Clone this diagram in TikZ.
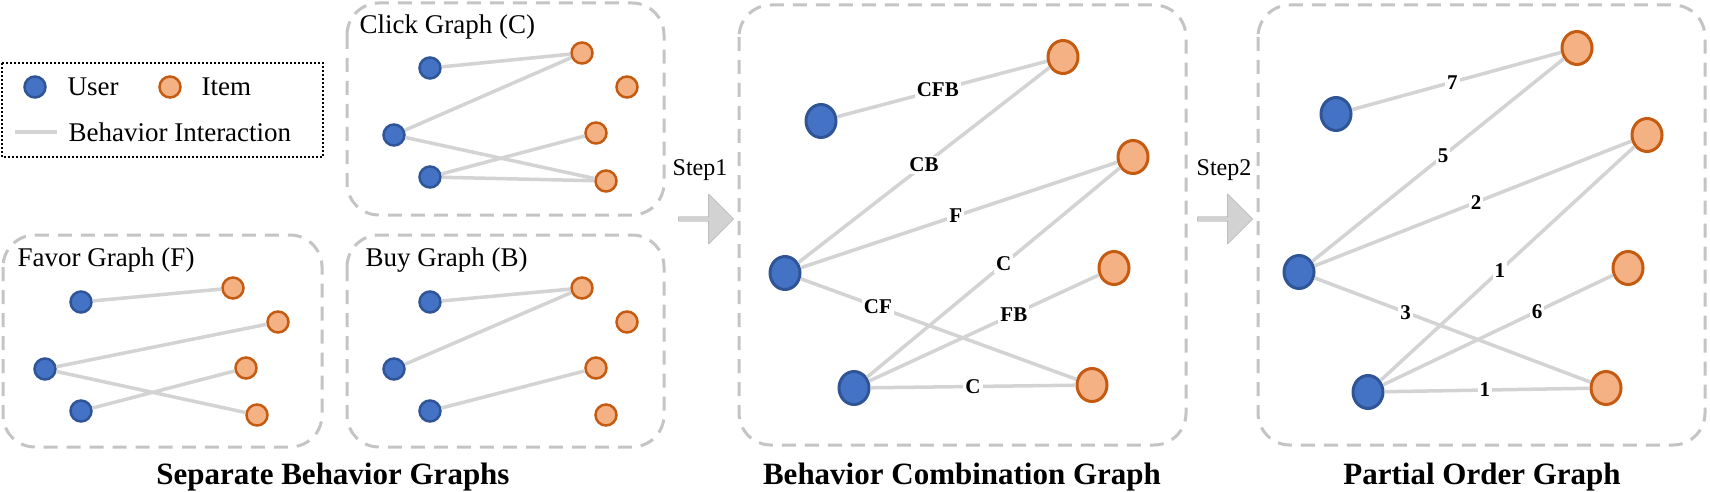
\documentclass[tikz,border=0pt]{standalone}
\usepackage{fontspec}
\setmainfont{Liberation Serif}
\newfontfamily\tms{Liberation Serif}
\usetikzlibrary{shapes.arrows,shapes.geometric}
\definecolor{ublue}{HTML}{4472C4}\definecolor{ubd}{HTML}{2F5597}
\definecolor{iorg}{HTML}{F4B183}\definecolor{iod}{HTML}{C55A11}
\definecolor{lg}{HTML}{D3D3D3}\definecolor{bx}{HTML}{C4C4C4}
\begin{document}
\begin{tikzpicture}[x=1pt,y=-1pt,
 us/.style={circle,fill=ublue,draw=ubd,line width=2.5pt,inner sep=0,minimum size=21pt},
 it/.style={circle,fill=iorg,draw=iod,line width=2.5pt,inner sep=0,minimum size=21pt},
 bu/.style={ellipse,fill=ublue,draw=ubd,line width=3pt,inner sep=0,minimum width=30pt,minimum height=33pt},
 bi/.style={ellipse,fill=iorg,draw=iod,line width=3pt,inner sep=0,minimum width=30pt,minimum height=33pt},
 ln/.style={draw=lg,line width=3.5pt},
 box/.style={draw=bx,line width=3pt,dash pattern=on 14pt off 9pt,rounded corners=32pt},
 lab/.style={fill=white,font=\tms\bfseries\fontsize{21}{21}\selectfont,inner sep=2pt},
 ttl/.style={font=\tms\fontsize{27}{27}\selectfont,anchor=west},
 big/.style={font=\tms\bfseries\fontsize{31}{31}\selectfont},
 stp/.style={single arrow,draw=gray!70,fill=gray!35,minimum height=55pt,minimum width=50pt,single arrow head extend=2pt,inner sep=0}]
\useasboundingbox (0,0) rectangle (1710,492);
% legend
\draw[dotted,line width=2pt] (2,63) rectangle (323,157);
\node[us] (lu) at (35,87) {}; \node[ttl] (lut) at (64,87) {User};
\node[it] (li) at (170,87) {}; \node[ttl] (lit) at (198,87) {Item};
\coordinate (la) at (15,132); \coordinate (lb) at (57,132);
\draw[ln] (la) -- (lb); \node[ttl] (lbt) at (65,132) {Behavior Interaction};
% click
\draw[box] (347,3) rectangle (664,215);
\node[ttl] (ct) at (356,27) {Click Graph (C)};
\node[us] (c1) at (430,68) {}; \node[us] (c2) at (394,135) {}; \node[us] (c3) at (430,177) {};
\node[it] (ci1) at (582,53) {}; \node[it] (ci2) at (627,87) {}; \node[it] (ci3) at (596,133) {}; \node[it] (ci4) at (606,181) {};
\draw[ln] (c1)--(ci1) (c2)--(ci1) (c2)--(ci4) (c3)--(ci3) (c3)--(ci4);
% favor
\draw[box] (3,235) rectangle (322,447);
\node[ttl] (ft) at (14,260) {Favor Graph (F)};
\node[us] (f1) at (81,302) {}; \node[us] (f2) at (45,369) {}; \node[us] (f3) at (81,411) {};
\node[it] (fi1) at (233,288) {}; \node[it] (fi2) at (278,322) {}; \node[it] (fi3) at (246,368) {}; \node[it] (fi4) at (257,415) {};
\draw[ln] (f1)--(fi1) (f2)--(fi2) (f2)--(fi4) (f3)--(fi3);
% buy
\draw[box] (347,235) rectangle (664,447);
\node[ttl] (bt) at (362,260) {Buy Graph (B)};
\node[us] (b1) at (430,302) {}; \node[us] (b2) at (394,369) {}; \node[us] (b3) at (430,411) {};
\node[it] (bi1) at (582,288) {}; \node[it] (bi2) at (627,322) {}; \node[it] (bi3) at (596,368) {}; \node[it] (bi4) at (606,415) {};
\draw[ln] (b1)--(bi1) (b2)--(bi1) (b3)--(bi3);
\node[big] (t1) at (333,477) {Separate Behavior Graphs};
% step1
\node[font=\tms\fontsize{24}{24}\selectfont] (s1) at (700,170) {Step1};
\node[stp] (a1) at (705,219) {};
% combination
\draw[box] (739,5) rectangle (1186,445);
\node[bu] (m1) at (821,121) {}; \node[bu] (m2) at (785,273) {}; \node[bu] (m3) at (854,388) {};
\node[bi] (n1) at (1063,57) {}; \node[bi] (n2) at (1133,157) {}; \node[bi] (n3) at (1114,268) {}; \node[bi] (n4) at (1092,385) {};
\draw[ln] (m1)--(n1) node[lab,pos=0.48]{CFB};
\draw[ln] (m2)--(n1) node[lab,pos=0.5]{CB};
\draw[ln] (m2)--(n2) node[lab,pos=0.49]{F};
\draw[ln] (m3)--(n2) node[lab,pos=0.54]{C};
\draw[ln] (m2)--(n4) node[lab,pos=0.28]{CF};
\draw[ln] (m3)--(n3) node[lab,pos=0.63]{FB};
\draw[ln] (m3)--(n4) node[lab,pos=0.5]{C};
\node[big] (t2) at (962,477) {Behavior Combination Graph};
% step2
\node[font=\tms\fontsize{24}{24}\selectfont] (s2) at (1224,170) {Step2};
\node[stp] (a2) at (1224,219) {};
% partial order
\draw[box] (1258,5) rectangle (1705,445);
\node[bu] (p1) at (1336,114) {}; \node[bu] (p2) at (1299,272) {}; \node[bu] (p3) at (1368,392) {};
\node[bi] (q1) at (1577,48) {}; \node[bi] (q2) at (1647,135) {}; \node[bi] (q3) at (1628,268) {}; \node[bi] (q4) at (1606,388) {};
\draw[ln] (p1)--(q1) node[lab,pos=0.48]{7};
\draw[ln] (p2)--(q1) node[lab,pos=0.52]{5};
\draw[ln] (p2)--(q2) node[lab,pos=0.51]{2};
\draw[ln] (p3)--(q2) node[lab,pos=0.47]{1};
\draw[ln] (p2)--(q4) node[lab,pos=0.33]{3};
\draw[ln] (p3)--(q3) node[lab,pos=0.67]{6};
\draw[ln] (p3)--(q4) node[lab,pos=0.49]{1};
\node[big] (t3) at (1482,477) {Partial Order Graph};
\end{tikzpicture}
\end{document}
